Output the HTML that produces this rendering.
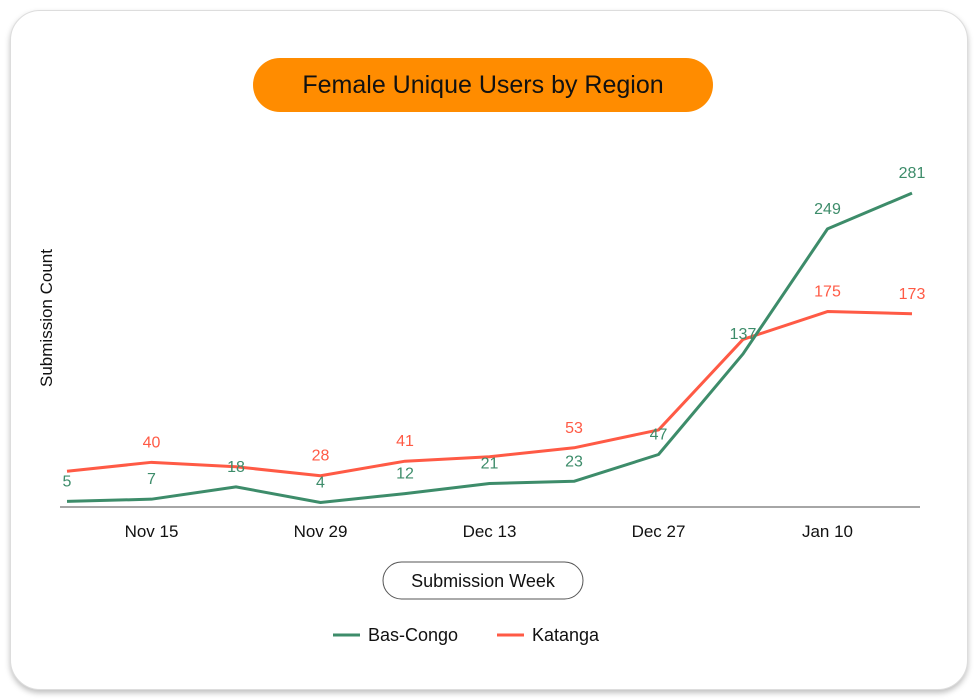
<!DOCTYPE html>
<html><head><meta charset="utf-8">
<style>
html,body{margin:0;padding:0;background:#fff;width:980px;height:700px;overflow:hidden;font-family:"Liberation Sans",sans-serif;}
#card{position:absolute;left:10px;top:10px;width:956px;height:678px;border-radius:30px;background:#fff;border:1px solid #ddd;box-shadow:0 3px 6px rgba(0,0,0,0.25);}
svg{position:absolute;left:0;top:0;}
</style></head>
<body>
<div id="card"></div>
<svg id="chart" width="980" height="700">
  <rect x="253" y="58" width="460" height="54" rx="27" fill="#FF8C00"/>
  <text x="483" y="93" text-anchor="middle" font-size="25" fill="#111">Female Unique Users by Region</text>
  <text transform="translate(52,318) rotate(-90)" text-anchor="middle" font-size="17" fill="#111">Submission Count</text>
  <line x1="60" y1="507" x2="920" y2="507" stroke="#888" stroke-width="1.5"/>
  <g id="ticks"></g>
  <g id="series"></g>
  <rect x="383" y="562" width="200" height="37" rx="18.5" fill="#fff" stroke="#555"/>
  <text x="483" y="587" text-anchor="middle" font-size="18" fill="#111">Submission Week</text>
  <g>
    <line x1="333" y1="635" x2="360" y2="635" stroke="#3D8C6A" stroke-width="3"/>
    <text x="368" y="641" font-size="18" fill="#111">Bas-Congo</text>
  </g>
  <g>
    <line x1="497" y1="635" x2="524" y2="635" stroke="#FF5A45" stroke-width="3"/>
    <text x="532" y="641" font-size="18" fill="#111">Katanga</text>
  </g>
</svg>
<script>
const weeks = [0,1,2,3,4,5,6,7,8,9,10];
const basCongo = [5,7,18,4,12,21,23,47,137,249,281];
const katanga = [32,40,36,28,41,45,53,69,150,175,173];
const katangaShowLabel = [0,1,0,1,1,0,1,0,0,1,1];
const tickIdx = [1,3,5,7,9];
const tickLabels = ["Nov 15","Nov 29","Dec 13","Dec 27","Jan 10"];

const NS="http://www.w3.org/2000/svg";
const xs = i => 67 + i*84.5;
const ys = v => 507 - v*1.117;
function mk(tag, attrs, parent){const e=document.createElementNS(NS,tag);for(const k in attrs)e.setAttribute(k,attrs[k]);parent.appendChild(e);return e;}
const tg=document.getElementById('ticks');
tickIdx.forEach((ti,k)=>{
  const t=mk('text',{x:xs(ti),y:537,'text-anchor':'middle','font-size':17,fill:'#111'},tg);
  t.textContent=tickLabels[k];
  
  
});
const sg=document.getElementById('series');
function drawSeries(vals,color,name,show){
  const p=mk('polyline',{points:vals.map((v,i)=>xs(weeks[i])+','+ys(v)).join(' '),fill:'none',stroke:color,'stroke-width':3,'stroke-linejoin':'round'},sg);
  
  
  vals.forEach((v,i)=>{
    if(show && !show[i]) return;
    const t=mk('text',{x:xs(weeks[i]),y:ys(v)-15,'text-anchor':'middle','font-size':16,fill:color},sg);
    t.textContent=v;
    
    
  });
}
drawSeries(katanga,'#FF5A45','katanga',katangaShowLabel);
drawSeries(basCongo,'#3D8C6A','bas-congo',null);
</script>
</body></html>
